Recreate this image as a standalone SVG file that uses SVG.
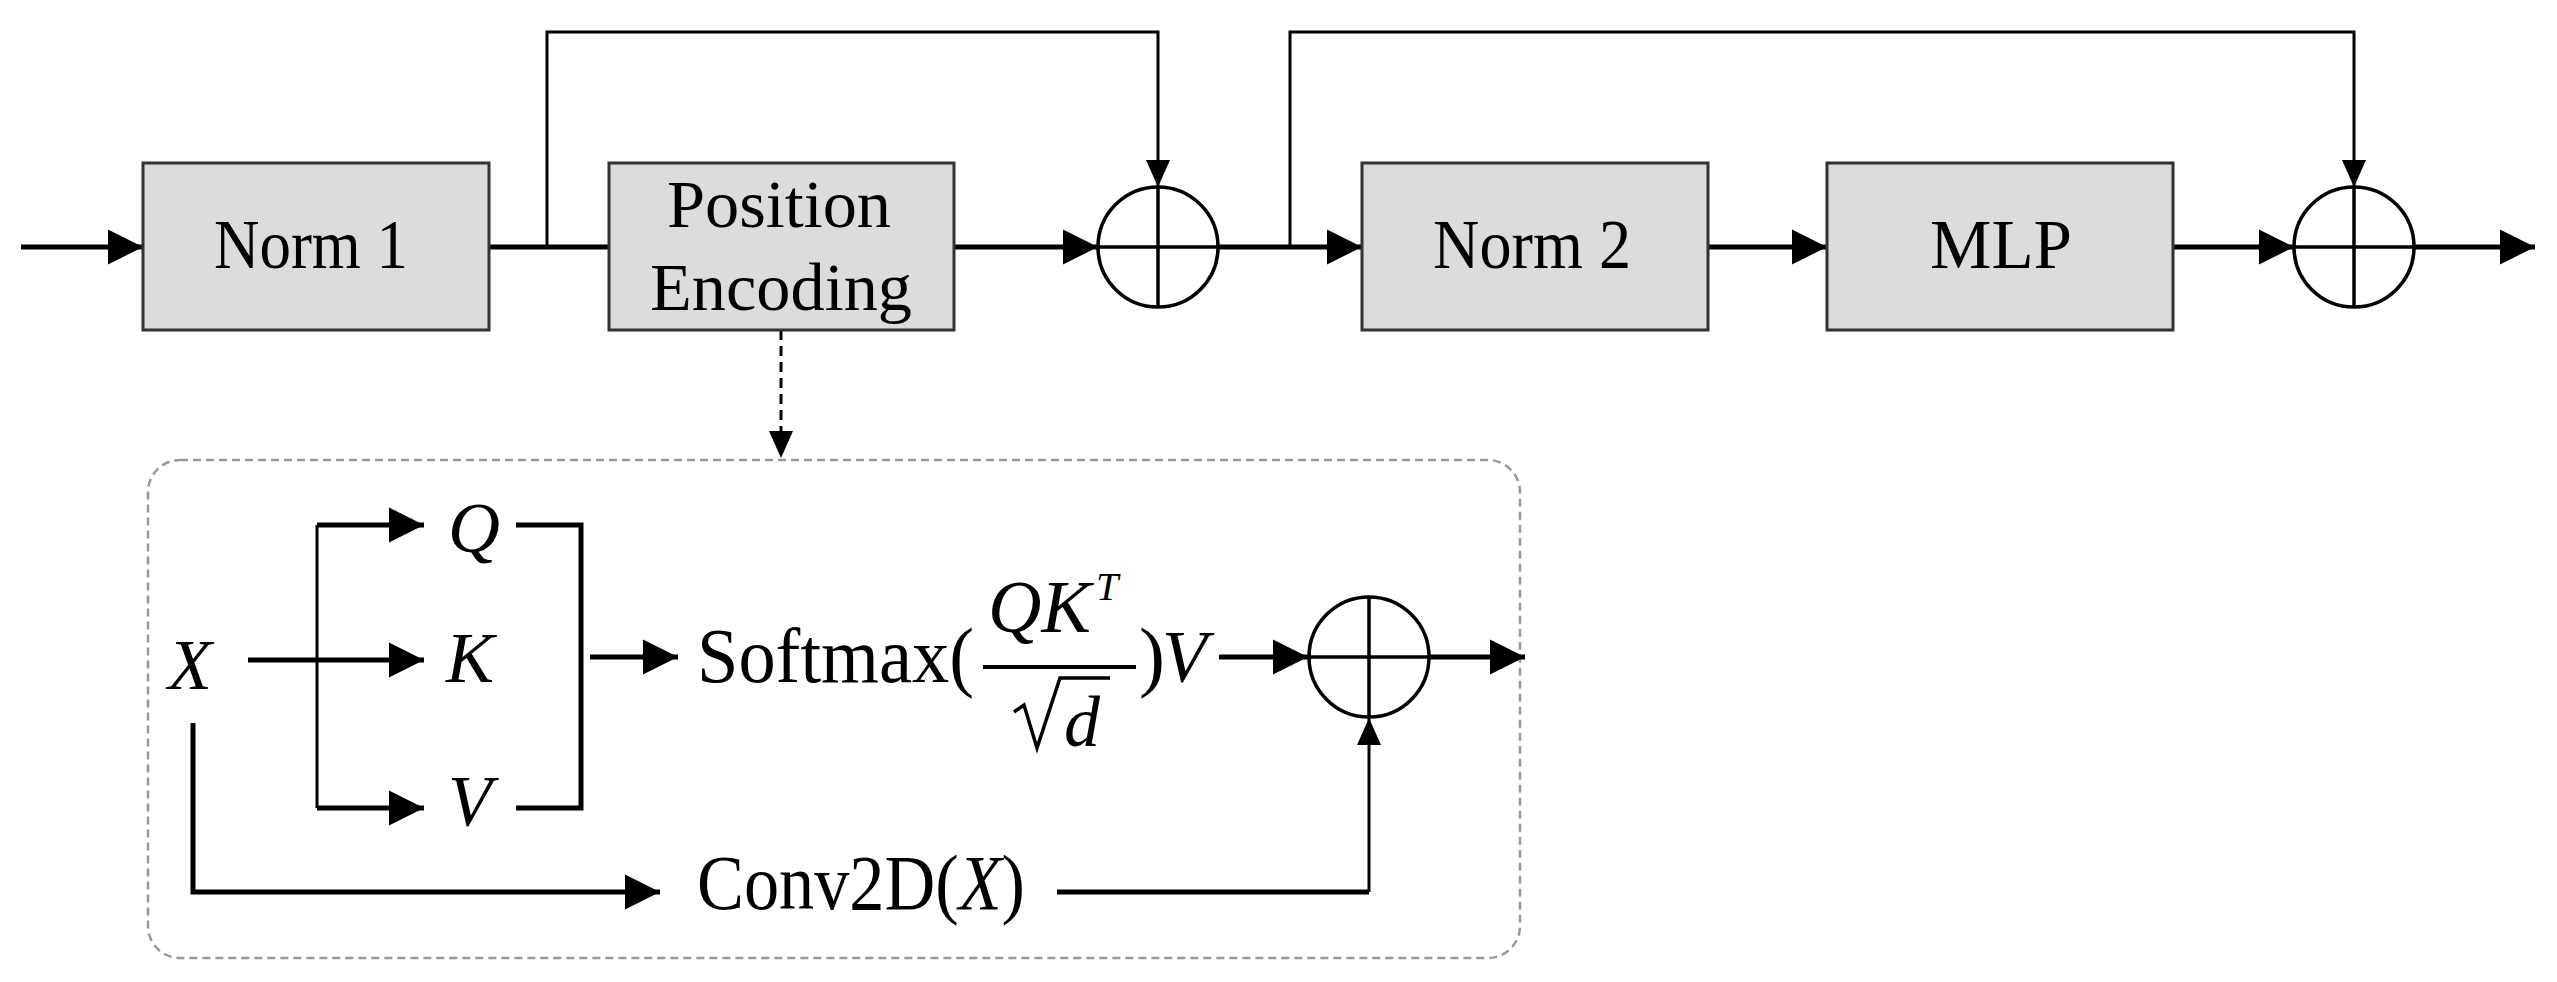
<svg xmlns="http://www.w3.org/2000/svg" width="2557" height="982" viewBox="0 0 2557 982">
<defs>
<marker id="ah" markerWidth="8" markerHeight="8" refX="7" refY="4" orient="auto" markerUnits="strokeWidth"><path d="M0,0.5 L7,4 L0,7.5 Z" fill="#000"/></marker>
<marker id="ahs" markerWidth="10" markerHeight="10" refX="9" refY="5" orient="auto" markerUnits="strokeWidth"><path d="M0,1 L9,5 L0,9 Z" fill="#000"/></marker>
<style>
.box{fill:#dcdcdc;stroke:#333;stroke-width:3}
.t{font-family:"Liberation Serif",serif;fill:#000}
.i{font-style:italic}
.w{fill:none;stroke:#000;stroke-width:5}
.n{fill:none;stroke:#000;stroke-width:3}
.c{fill:none;stroke:#000;stroke-width:3.5}
</style>
</defs>
<rect x="148" y="460" width="1372" height="498" rx="32" fill="none" stroke="#999" stroke-width="2.5" stroke-dasharray="8,5"/>
<g id="connectors">
<path class="w" d="M21,247 H143" marker-end="url(#ah)"/>
<path class="w" d="M489,247 H609"/>
<path class="n" d="M547,247 V32 H1158 V187" marker-end="url(#ahs)"/>
<path class="w" d="M954,247 H1098" marker-end="url(#ah)"/>
<path class="w" d="M1218,247 H1362" marker-end="url(#ah)"/>
<path class="n" d="M1290,247 V32 H2354 V187" marker-end="url(#ahs)"/>
<path class="w" d="M1708,247 H1827" marker-end="url(#ah)"/>
<path class="w" d="M2173,247 H2294" marker-end="url(#ah)"/>
<path class="w" d="M2414,247 H2535" marker-end="url(#ah)"/>
<path d="M781,330 V458" stroke="#000" stroke-width="3" stroke-dasharray="10,6" fill="none" marker-end="url(#ahs)"/>
<path class="w" d="M248,660 H424" marker-end="url(#ah)"/>
<path class="n" d="M317,525 V808"/>
<path class="w" d="M317,525 H424" marker-end="url(#ah)"/>
<path class="w" d="M317,808 H424" marker-end="url(#ah)"/>
<path class="w" d="M516,525 H581 V808 H516"/>
<path class="w" d="M590,657 H678" marker-end="url(#ah)"/>
<path class="w" d="M1219,657 H1308" marker-end="url(#ah)"/>
<path class="w" d="M1429,657 H1525" marker-end="url(#ah)"/>
<path class="w" d="M193,723 V892 H660" marker-end="url(#ah)"/>
<path class="w" d="M1057,892 H1369"/>
<path class="n" d="M1369,892 V718" marker-end="url(#ahs)"/>
</g>
<g id="norm1"><rect class="box" x="143" y="163" width="346" height="167"/><text class="t" x="214" y="268" font-size="70" textLength="194" lengthAdjust="spacingAndGlyphs">Norm 1</text></g>
<g id="pos-enc"><rect class="box" x="609" y="163" width="345" height="167"/><text class="t" x="667" y="227" font-size="68" textLength="224" lengthAdjust="spacingAndGlyphs">Position</text><text class="t" x="650" y="310" font-size="68" textLength="262" lengthAdjust="spacingAndGlyphs">Encoding</text></g>
<g id="add1"><circle class="c" cx="1158" cy="247" r="60"/><path class="c" d="M1098,247 H1218 M1158,187 V307"/></g>
<g id="norm2"><rect class="box" x="1362" y="163" width="346" height="167"/><text class="t" x="1433" y="268" font-size="70" textLength="198" lengthAdjust="spacingAndGlyphs">Norm 2</text></g>
<g id="mlp"><rect class="box" x="1827" y="163" width="346" height="167"/><text class="t" x="1930" y="268" font-size="70" textLength="142" lengthAdjust="spacingAndGlyphs">MLP</text></g>
<g id="add2"><circle class="c" cx="2354" cy="247" r="60"/><path class="c" d="M2294,247 H2414 M2354,187 V307"/></g>
<g id="x"><text class="t i" x="168" y="689" font-size="72">X</text></g>
<g id="q"><text class="t i" x="448" y="552" font-size="72">Q</text></g>
<g id="k"><text class="t i" x="446" y="682" font-size="72">K</text></g>
<g id="v"><text class="t i" x="448" y="825" font-size="72">V</text></g>
<g id="softmax">
<text class="t" x="697" y="682" font-size="78" textLength="277" lengthAdjust="spacingAndGlyphs">Softmax(</text>
<text class="t i" x="988" y="632" font-size="74">QK</text>
<text class="t i" x="1096" y="600" font-size="40">T</text>
<line x1="983" y1="667" x2="1136" y2="667" stroke="#000" stroke-width="4"/>
<path d="M1014,712 L1024,705 L1037,748 L1060,678 H1110" fill="none" stroke="#000" stroke-width="3.5"/>
<text class="t i" x="1064" y="746" font-size="72">d</text>
<text class="t" x="1139" y="682" font-size="78">)</text>
<text class="t i" x="1162" y="682" font-size="74">V</text>
</g>
<g id="add3"><circle class="c" cx="1369" cy="657" r="60"/><path class="c" d="M1309,657 H1429 M1369,597 V717"/></g>
<g id="conv"><text class="t" x="697" y="909" font-size="78" textLength="328" lengthAdjust="spacingAndGlyphs">Conv2D(<tspan class="i">X</tspan>)</text></g>
</svg>
